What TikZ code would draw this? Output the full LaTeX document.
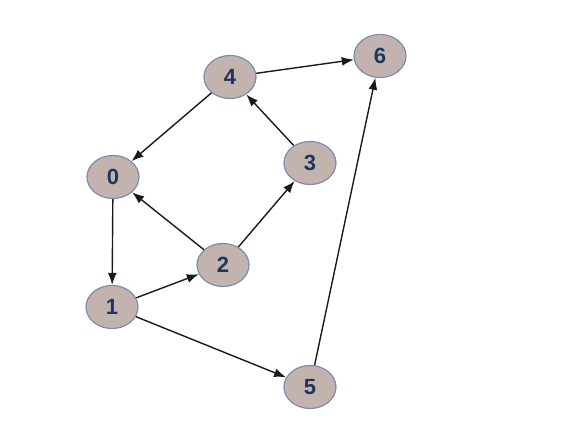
\documentclass[tikz,border=0pt]{standalone}
\usepackage{fontspec}
\setmainfont{Liberation Sans}
\usetikzlibrary{shapes.geometric,arrows.meta}
\definecolor{nodefill}{HTML}{C2B3AF}
\definecolor{nodeedge}{HTML}{7E8CB2}
\definecolor{nodetext}{HTML}{1E365F}
\definecolor{edgecol}{HTML}{1A1A1A}
\tikzset{
  vertex/.style={ellipse, draw=nodeedge, line width=1.2pt, fill=nodefill,
    minimum width=52pt, minimum height=43pt, inner sep=0pt,
    text=nodetext, font=\fontsize{22}{26}\selectfont\bfseries},
  edge/.style={draw=edgecol, line width=1.4pt, -{Latex[length=12pt,width=9pt]}}
}
\begin{document}
\begin{tikzpicture}[x=1pt,y=-1pt]
\useasboundingbox (0,0) rectangle (582,427);
\node[vertex] (n4) at (230,77) {4};
\node[vertex] (n6) at (380,56) {6};
\node[vertex] (n0) at (113,177) {0};
\node[vertex] (n3) at (310,163) {3};
\node[vertex] (n2) at (223,265) {2};
\node[vertex] (n1) at (112,307) {1};
\node[vertex] (n5) at (310,387) {5};
\draw[edge] (n4) -- (n6);
\draw[edge] (n4) -- (n0);
\draw[edge] (n3) -- (n4);
\draw[edge] (n2) -- (n0);
\draw[edge] (n2) -- (n3);
\draw[edge] (n0) -- (n1);
\draw[edge] (n1) -- (n2);
\draw[edge] (n1) -- (n5);
\draw[edge] (n5) -- (n6);
\end{tikzpicture}
\end{document}
